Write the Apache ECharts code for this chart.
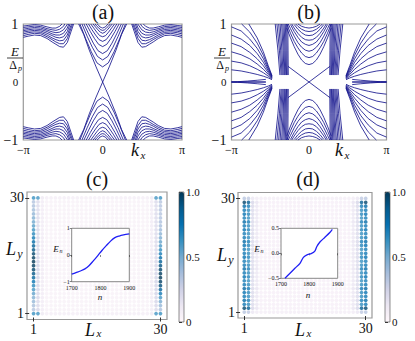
<!DOCTYPE html>
<html><head><meta charset="utf-8">
<script src="https://cdn.jsdelivr.net/npm/echarts@6/dist/echarts.min.js"></script>
<style>html,body{margin:0;padding:0;background:#fff}#c{width:415px;height:341px}#o{position:absolute;left:0;top:0;width:415px;height:341px;pointer-events:none}</style>
</head><body><div id="c"></div><div id="o"></div>
<script>
// Bands are read for k>=0, E>=0 as [k, E] points; the figure is symmetric in k and in E.
const outerBandsA = [
  [[1.15,1.0],[1.25,0.87],[1.4,0.68],[1.55,0.60],[1.7,0.61],[1.85,0.65],[2.0,0.69],[2.2,0.75],[2.45,0.80],[2.7,0.81],[2.95,0.79],[3.14159,0.77]],
  [[1.19,1.0],[1.25,0.93],[1.4,0.75],[1.55,0.66],[1.7,0.66],[1.85,0.69],[2.0,0.73],[2.2,0.78],[2.45,0.83],[2.7,0.84],[2.95,0.82],[3.14159,0.80]],
  [[1.23,1.0],[1.25,0.98],[1.4,0.81],[1.55,0.72],[1.7,0.71],[1.85,0.73],[2.0,0.76],[2.2,0.81],[2.45,0.855],[2.7,0.865],[2.95,0.85],[3.14159,0.83]],
  [[1.29,1.0],[1.4,0.87],[1.55,0.78],[1.7,0.76],[1.85,0.77],[2.0,0.80],[2.2,0.84],[2.45,0.88],[2.7,0.89],[2.95,0.875],[3.14159,0.86]],
  [[1.34,1.0],[1.4,0.93],[1.55,0.84],[1.7,0.81],[1.85,0.81],[2.0,0.83],[2.2,0.87],[2.45,0.905],[2.7,0.915],[2.95,0.90],[3.14159,0.885]],
  [[1.39,1.0],[1.55,0.90],[1.7,0.86],[1.85,0.85],[2.0,0.865],[2.2,0.895],[2.45,0.93],[2.7,0.94],[2.95,0.925],[3.14159,0.91]],
  [[1.50,1.0],[1.55,0.96],[1.7,0.91],[1.85,0.89],[2.0,0.90],[2.2,0.92],[2.45,0.955],[2.7,0.965],[2.95,0.95],[3.14159,0.94]],
  [[1.61,1.0],[1.7,0.96],[1.85,0.93],[2.0,0.93],[2.2,0.95],[2.45,0.98],[2.7,0.99],[2.95,0.975],[3.14159,0.965]]
];
const crossBandA = [[0,0.00],[0.26,0.26],[0.53,0.55],[0.75,0.82],[0.95,1.0]];
const innerBandsA = [
  [[0,0.26],[0.225,0.33],[0.45,0.52],[0.675,0.75],[0.9,1.0]],
  [[0,0.38],[0.205,0.44],[0.41,0.60],[0.615,0.79],[0.82,1.0]],
  [[0,0.49],[0.185,0.54],[0.37,0.67],[0.555,0.83],[0.74,1.0]],
  [[0,0.61],[0.163,0.65],[0.325,0.75],[0.488,0.87],[0.65,1.0]],
  [[0,0.70],[0.14,0.73],[0.28,0.81],[0.42,0.90],[0.56,1.0]],
  [[0,0.78],[0.118,0.80],[0.235,0.86],[0.353,0.93],[0.47,1.0]],
  [[0,0.84],[0.095,0.86],[0.19,0.90],[0.285,0.95],[0.38,1.0]],
  [[0,0.89],[0.075,0.90],[0.15,0.93],[0.225,0.96],[0.3,1.0]],
  [[0,0.93],[0.055,0.94],[0.11,0.95],[0.165,0.98],[0.22,1.0]]
];
const fanBandsB = [
  [[1.5,0.04],[1.65,0.07],[1.85,0.10],[2.1,0.13],[2.4,0.16],[2.75,0.19],[3.14159,0.21]],
  [[1.5,0.05],[1.65,0.10],[1.85,0.16],[2.1,0.22],[2.4,0.28],[2.75,0.33],[3.14159,0.36]],
  [[1.5,0.06],[1.65,0.13],[1.85,0.22],[2.1,0.31],[2.4,0.40],[2.75,0.47],[3.14159,0.52]],
  [[1.5,0.07],[1.65,0.16],[1.85,0.28],[2.1,0.40],[2.4,0.51],[2.75,0.61],[3.14159,0.67]],
  [[1.5,0.08],[1.65,0.19],[1.85,0.34],[2.1,0.49],[2.4,0.63],[2.75,0.74],[3.14159,0.81]],
  [[1.5,0.09],[1.65,0.22],[1.85,0.40],[2.1,0.58],[2.4,0.74],[2.75,0.88],[3.14159,0.95]],
  [[1.5,0.10],[1.65,0.25],[1.85,0.46],[2.1,0.67],[2.4,0.86],[2.73,1.0]],
  [[1.5,0.11],[1.65,0.28],[1.85,0.52],[2.1,0.76],[2.44,1.0]]
];
const zeroBandsB = [
  [[1.75,0.045],[2.1,0.03],[2.5,0.016],[2.9,0.005],[3.14159,0.0]],
  [[1.75,0.0],[3.14159,0.0]]
];
const stripeBandsB = [
  [[0.86,1.0],[0.85,0.55],[0.84,0.12]],
  [[0.91,1.0],[0.89,0.55],[0.88,0.12]],
  [[0.96,1.0],[0.93,0.55],[0.91,0.12]],
  [[1.01,1.0],[0.97,0.55],[0.94,0.12]],
  [[1.06,1.0],[1.01,0.55],[0.98,0.12]],
  [[1.11,1.0],[1.05,0.55],[1.01,0.12]],
  [[1.17,1.0],[1.10,0.55],[1.05,0.12]],
  [[1.23,1.0],[1.15,0.55],[1.09,0.12]],
  [[1.30,1.0],[1.20,0.55],[1.13,0.12]],
  [[1.37,1.0],[1.26,0.55],[1.18,0.12]]
];
const crossBandB = [[0,0],[0.85,0.27]];
const innerBandsB = [
  [[0,0.30],[0.15,0.32],[0.3,0.38],[0.45,0.48],[0.6,0.61],[0.75,0.76],[0.9,0.93]],
  [[0,0.42],[0.15,0.44],[0.3,0.50],[0.45,0.59],[0.6,0.70],[0.75,0.84],[0.9,1.0]],
  [[0,0.53],[0.15,0.55],[0.3,0.60],[0.45,0.68],[0.6,0.79],[0.75,0.92],[0.84,1.0]],
  [[0,0.63],[0.15,0.65],[0.3,0.69],[0.45,0.77],[0.6,0.87],[0.75,0.99]],
  [[0,0.72],[0.15,0.73],[0.3,0.77],[0.45,0.84],[0.6,0.93],[0.7,1.0]],
  [[0,0.80],[0.15,0.81],[0.3,0.85],[0.45,0.91],[0.6,0.99]],
  [[0,0.87],[0.15,0.88],[0.3,0.91],[0.45,0.96],[0.54,1.0]],
  [[0,0.93],[0.15,0.94],[0.3,0.96],[0.45,1.0]]
];
const cCol1  = [0.62,0.34,0.37,0.42,0.47,0.54,0.60,0.66,0.74,0.82,0.89,0.95,0.98,1.00,0.98,0.95,0.89,0.84,0.78,0.72,0.66,0.61,0.56,0.51,0.47,0.43,0.39,0.36,0.34,0.62];
const cCol2  = [0.60,0.22,0.21,0.21,0.22,0.21,0.22,0.23,0.22,0.23,0.24,0.23,0.24,0.24,0.23,0.24,0.23,0.22,0.23,0.22,0.21,0.22,0.21,0.21,0.20,0.21,0.20,0.20,0.21,0.60];
const cCol3  = [0.12,0.09,0.09,0.09,0.09,0.09,0.10,0.10,0.10,0.10,0.10,0.10,0.10,0.10,0.10,0.10,0.10,0.10,0.10,0.10,0.09,0.09,0.09,0.09,0.09,0.09,0.09,0.09,0.09,0.12];
const cInner = [0.07,0.05,0.05,0.05,0.05,0.05,0.05,0.05,0.05,0.05,0.05,0.05,0.05,0.05,0.05,0.05,0.05,0.05,0.05,0.05,0.05,0.05,0.05,0.05,0.05,0.05,0.05,0.05,0.05,0.07];
const cCol28 = [0.12,0.09,0.09,0.09,0.10,0.10,0.10,0.10,0.10,0.10,0.10,0.10,0.10,0.10,0.10,0.10,0.10,0.09,0.09,0.09,0.09,0.09,0.09,0.09,0.09,0.09,0.09,0.09,0.09,0.12];
const cCol29 = [0.60,0.21,0.22,0.23,0.23,0.24,0.24,0.24,0.24,0.24,0.23,0.23,0.23,0.22,0.22,0.22,0.21,0.21,0.21,0.21,0.20,0.20,0.20,0.20,0.20,0.20,0.20,0.20,0.21,0.60];
const cCol30 = [0.62,0.36,0.42,0.50,0.60,0.72,0.83,0.92,0.97,1.00,0.98,0.95,0.90,0.84,0.78,0.71,0.64,0.58,0.53,0.48,0.44,0.40,0.37,0.35,0.34,0.33,0.33,0.33,0.33,0.62];
const dCol1  = [0.32,0.95,0.72,0.78,0.72,0.74,0.80,0.72,0.70,0.75,0.72,0.78,0.72,0.70,0.75,0.72,0.70,0.75,0.78,0.72,0.70,0.75,0.72,0.78,0.70,0.74,0.72,0.78,0.95,0.32];
const dCol2  = [0.30,0.85,0.64,0.70,0.64,0.66,0.72,0.64,0.62,0.67,0.64,0.70,0.64,0.62,0.67,0.64,0.62,0.67,0.70,0.64,0.62,0.67,0.64,0.70,0.62,0.66,0.64,0.70,0.85,0.30];
const dCol3  = [0.13,0.22,0.20,0.21,0.20,0.20,0.21,0.20,0.20,0.21,0.20,0.21,0.20,0.20,0.21,0.20,0.20,0.21,0.21,0.20,0.20,0.21,0.20,0.21,0.20,0.20,0.20,0.21,0.22,0.13];
const dCol4  = [0.09,0.14,0.13,0.13,0.13,0.13,0.14,0.13,0.13,0.13,0.13,0.14,0.13,0.13,0.13,0.13,0.13,0.13,0.14,0.13,0.13,0.13,0.13,0.14,0.13,0.13,0.13,0.13,0.14,0.09];
const dInner = [0.07,0.06,0.06,0.06,0.06,0.06,0.06,0.06,0.06,0.06,0.06,0.06,0.06,0.06,0.06,0.06,0.06,0.06,0.06,0.06,0.06,0.06,0.06,0.06,0.06,0.06,0.06,0.06,0.06,0.07];
const nC = [1700,1715,1730,1746,1760,1775,1790,1805,1820,1835,1850,1865,1880,1900];
const eC = [-0.72,-0.66,-0.60,-0.52,-0.40,-0.22,-0.03,0.17,0.35,0.52,0.65,0.71,0.75,0.79];
const nD = [1714,1730,1749,1767,1779,1790,1808,1820,1826,1838,1855,1873,1881];
const eD = [-0.50,-0.41,-0.30,-0.20,-0.08,-0.035,0.0,0.05,0.13,0.23,0.32,0.42,0.48];
const PuBu = ['#fff7fb','#ece7f2','#d0d1e6','#a6bddb','#74a9cf','#3690c0','#0570b0','#045a8d','#023858'];

const BAND = '#16168e';
const SERIF = '"Liberation Serif", "DejaVu Serif", serif';
const MINUS = '\u2212';
const GRID_A = {left:23.3, top:24, width:158.7, height:116};
const GRID_B = {left:231.5, top:24, width:155, height:116};

function mirror(pts, joined) {
  const out = [];
  [1, -1].forEach(s => {
    const right = pts.map(p => [p[0], s * p[1]]);
    if (joined) {
      const left = right.slice().reverse().map(p => [-p[0], p[1]]);
      out.push(left.concat(right.slice(1)));
    } else {
      out.push(right, right.map(p => [-p[0], p[1]]));
    }
  });
  return out;
}
const polysA = [], polysB = [], uPolysA = [], uPolysB = [];
outerBandsA.forEach(b => polysA.push(...mirror(b, false)));
polysA.push(...mirror(crossBandA, true));
innerBandsA.forEach(b => uPolysA.push(...mirror(b, true)));
fanBandsB.forEach(b => polysB.push(...mirror(b, false)));
zeroBandsB.forEach(b => polysB.push(...mirror(b, false)));
stripeBandsB.forEach(b => polysB.push(...mirror(b, false)));
polysB.push(...mirror(crossBandB, true));
innerBandsB.forEach(b => uPolysB.push(...mirror(b, true)));

function bandLine(g, pts) {
  return {type:'line', xAxisIndex:g, yAxisIndex:g, data:pts, symbol:'none', showSymbol:false,
    lineStyle:{color:BAND, width:0.85}, clip:false, silent:true, z:2};
}
const series = [];
polysA.forEach(p => series.push(bandLine(0, p)));
polysB.forEach(p => series.push(bandLine(1, p)));

function gridData(cols) {
  const out = [];
  for (let x = 1; x <= 30; x++) {
    const col = cols(x);
    for (let y = 1; y <= 30; y++) out.push([x, y, col[y - 1]]);
  }
  return out;
}
const dataC = gridData(x => x===1?cCol1 : x===2?cCol2 : x===3?cCol3 : x===28?cCol28 : x===29?cCol29 : x===30?cCol30 : cInner);
const dataD = gridData(x => (x===1||x===30)?dCol1 : (x===2||x===29)?dCol2 : (x===3||x===28)?dCol3 : (x===4||x===27)?dCol4 : dInner);
const idxC = series.length;
series.push({type:'scatter', xAxisIndex:2, yAxisIndex:2, data:dataC, symbol:'circle', symbolSize:3.7, silent:true, z:2});
const idxD = series.length;
series.push({type:'scatter', xAxisIndex:3, yAxisIndex:3, data:dataD, symbol:'circle', symbolSize:3.7, silent:true, z:2});
series.push({type:'line', xAxisIndex:6, yAxisIndex:6, data:nC.map((n,i)=>[n,eC[i]]), symbol:'none', smooth:0.3, lineStyle:{color:'#1f1ff5', width:1.3}, z:8, silent:true});
series.push({type:'line', xAxisIndex:7, yAxisIndex:7, data:nD.map((n,i)=>[n,eD[i]]), symbol:'none', smooth:0.3, lineStyle:{color:'#1f1ff5', width:1.3}, z:8, silent:true});

const piFmt = v => Math.abs(v) < 1e-6 ? '0' : (v < 0 ? MINUS + 'π' : 'π');
const oneFmt = v => Math.abs(v) < 1e-6 ? '{s|0}' : (v < 0 ? '{b|' + MINUS + '1}' : '{b|1}');
const lab = (size, extra) => Object.assign({fontFamily:SERIF, fontSize:size, color:'#111'}, extra || {});
function bandX(g) {
  return {type:'value', gridIndex:g, min:-Math.PI, max:Math.PI, interval:Math.PI,
    axisLine:{show:false}, axisTick:{show:false}, splitLine:{show:false},
    axisLabel:lab(12, {formatter:piFmt, margin:4, showMinLabel:true, showMaxLabel:true})};
}
function bandY(g) {
  return {type:'value', gridIndex:g, min:-1, max:1, interval:1,
    axisLine:{show:false}, axisTick:{show:false}, splitLine:{show:false},
    axisLabel:lab(14, {formatter:oneFmt, margin:5, rich:{b:{fontFamily:SERIF, fontSize:14, color:'#111'}, s:{fontFamily:SERIF, fontSize:11, color:'#111'}}})};
}
function latAxis(g) {
  return {type:'value', gridIndex:g, min:-0.5, max:31.5,
    axisLine:{show:false}, splitLine:{show:false},
    axisTick:{show:true, length:4, customValues:[1,30], lineStyle:{color:'#333'}},
    axisLabel:lab(14, {customValues:[1,30], margin:3})};
}
function cbX(g) { return {type:'value', gridIndex:g, min:0, max:1, show:false}; }
function cbY(g) {
  return {type:'value', gridIndex:g, min:0, max:1, interval:0.5, position:'right',
    axisLine:{show:false}, splitLine:{show:false},
    axisTick:{show:true, length:3, lineStyle:{color:'#333'}},
    axisLabel:lab(11, {margin:2, formatter: v => v === 0 ? '0' : v.toFixed(1)})};
}
function insX(g) {
  return {type:'value', gridIndex:g, min:1700, max:1900, interval:100, z:6,
    axisLine:{show:false}, splitLine:{show:false},
    axisTick:{show:true, length:2, lineStyle:{color:'#333', width:0.6}},
    axisLabel:lab(6, {margin:3, formatter: v => String(v), showMinLabel:true, showMaxLabel:true})};
}
function insY(g, mn, mx, iv, fmt) {
  return {type:'value', gridIndex:g, min:mn, max:mx, interval:iv, z:6,
    axisLine:{show:false}, splitLine:{show:false},
    axisTick:{show:true, length:2, lineStyle:{color:'#333', width:0.6}},
    axisLabel:lab(6, {margin:2, formatter:fmt, showMinLabel:true, showMaxLabel:true})};
}
const frame = {show:true, borderColor:'#999', borderWidth:1.2, backgroundColor:'transparent'};
const option = {
  animation:false,
  backgroundColor:'#fff',
  grid:[
    Object.assign({}, GRID_A, frame),
    Object.assign({}, GRID_B, frame),
    Object.assign({left:27, top:192, width:140, height:127.5}, frame),
    Object.assign({left:238, top:192.5, width:134, height:125.5}, frame),
    {left:179, top:192, width:5, height:130, show:false},
    {left:385, top:192, width:5, height:130, show:false},
    {left:71.7, top:228.3, width:57.6, height:53.4, show:true, backgroundColor:'#fff', borderColor:'#888', borderWidth:1, z:5},
    {left:281, top:228.3, width:56.7, height:50, show:true, backgroundColor:'#fff', borderColor:'#888', borderWidth:1, z:5}
  ],
  xAxis:[bandX(0), bandX(1), latAxis(2), latAxis(3), cbX(4), cbX(5), insX(6), insX(7)],
  yAxis:[bandY(0), bandY(1), latAxis(2), latAxis(3), cbY(4), cbY(5),
    insY(6, -1, 1, 1, v => v < 0 ? MINUS + Math.abs(v) : String(v)),
    insY(7, -0.5, 0.5, 0.5, v => v < 0 ? MINUS + Math.abs(v).toFixed(1) : v.toFixed(1))],
  visualMap:[
    {type:'continuous', min:0, max:1, dimension:2, seriesIndex:[idxC], inRange:{color:PuBu}, calculable:false,
      left:179, top:192, itemWidth:5, itemHeight:130, padding:0, text:null, show:true},
    {type:'continuous', min:0, max:1, dimension:2, seriesIndex:[idxD], inRange:{color:PuBu}, calculable:false,
      left:385, top:192, itemWidth:5, itemHeight:130, padding:0, text:null, show:true}
  ],
  series:series,
  graphic:[]
};
function T(x, y, text, size, italic, align) {
  return {type:'text', x:x, y:y, z:20, silent:true,
    style:{text:text, fontFamily:SERIF, fontSize:size, fontStyle:italic ? 'italic' : 'normal', fill:'#111',
      align:align || 'center', verticalAlign:'middle'}};
}
const G = option.graphic;
G.push(T(103, 12, '(a)', 20), T(309, 12, '(b)', 20), T(97, 179, '(c)', 20), T(308, 179, '(d)', 20));
G.push(T(135, 150, 'k', 18, true), T(143, 155, 'x', 11, true));
G.push(T(339, 150, 'k', 18, true), T(347, 155, 'x', 11, true));
function frac(cx, cy) {
  G.push(T(cx, cy - 7, 'E', 13, true));
  G.push({type:'line', z:20, silent:true, shape:{x1:cx - 8, y1:cy, x2:cx + 8, y2:cy}, style:{stroke:'#111', lineWidth:0.8}});
  G.push(T(cx - 2, cy + 7, 'Δ', 12), T(cx + 5, cy + 10, 'p', 8, true));
}
frac(15, 58); frac(222, 58);
G.push(T(11, 249, 'L', 18, true), T(20, 254, 'y', 12, true));
G.push(T(222, 255, 'L', 18, true), T(231, 260, 'y', 12, true));
G.push(T(90, 330, 'L', 18, true), T(99, 333, 'x', 11, true));
G.push(T(300, 330, 'L', 18, true), T(309, 333, 'x', 11, true));
G.push(T(56, 249, 'E', 9, true), T(61, 251, 'n', 6, true), T(100, 297, 'n', 9, true));
G.push(T(257, 249, 'E', 9, true), T(262, 251, 'n', 6, true), T(308, 295, 'n', 9, true));
G.push({type:'rect', z:20, silent:true, shape:{x:179, y:192, width:5, height:130}, style:{fill:'none', stroke:'#444', lineWidth:0.6}});
G.push({type:'rect', z:20, silent:true, shape:{x:385, y:192, width:5, height:130}, style:{fill:'none', stroke:'#444', lineWidth:0.6}});

const chart = echarts.init(document.getElementById('c'), null, {renderer:'svg'});
chart.setOption(option);

// Nested U-shaped bands of (a) and (b), drawn on a transparent overlay chart with the same grids and scales.
try {
  const oSeries = [];
  uPolysA.forEach(p => oSeries.push(bandLine(0, p)));
  uPolysB.forEach(p => oSeries.push(bandLine(1, p)));
  const overlay = echarts.init(document.getElementById('o'), null, {renderer:'svg'});
  overlay.setOption({
    animation:false,
    backgroundColor:'transparent',
    grid:[Object.assign({show:false}, GRID_A), Object.assign({show:false}, GRID_B)],
    xAxis:[{type:'value', gridIndex:0, min:-Math.PI, max:Math.PI, show:false},
           {type:'value', gridIndex:1, min:-Math.PI, max:Math.PI, show:false}],
    yAxis:[{type:'value', gridIndex:0, min:-1, max:1, show:false},
           {type:'value', gridIndex:1, min:-1, max:1, show:false}],
    series:oSeries
  });
} catch (e) {}
</script></body></html>
